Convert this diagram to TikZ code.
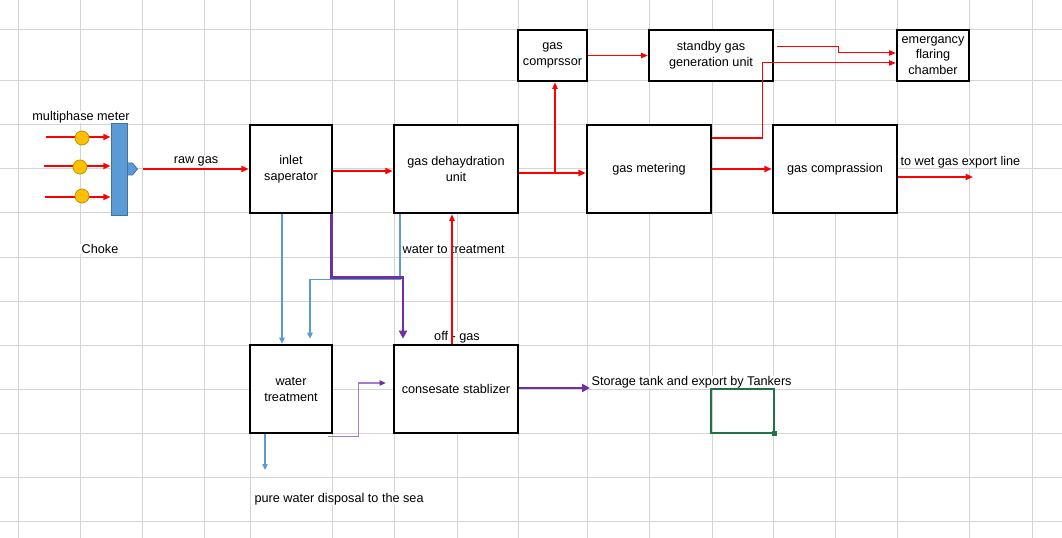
\documentclass[tikz,border=0pt]{standalone}
\usepackage{fontspec}
\setmainfont{Liberation Sans}
\usetikzlibrary{arrows.meta}
\definecolor{xlred}{HTML}{FF0000}
\definecolor{xlblue}{HTML}{5B9BD5}
\definecolor{xlnavy}{HTML}{41719C}
\definecolor{xlpurple}{HTML}{7030A0}
\definecolor{xllilac}{HTML}{A27DCB}
\definecolor{xlgrid}{HTML}{D4D4D4}
\definecolor{xlgreen}{HTML}{217346}
\definecolor{xlorange}{HTML}{FFC000}
\definecolor{xlbrown}{HTML}{BF9000}

\begin{document}
\begin{tikzpicture}[x=0.75pt, y=-0.75pt, >=Triangle,
    font=\fontsize{9.5}{12}\selectfont,
    gridline/.style={draw=xlgrid, line width=0.75pt},
    box/.style={draw, line width=1.9pt, fill=white, inner sep=0pt, align=center},
    lbl/.style={fill=white, inner xsep=1pt, inner ysep=0pt},
    redarrow/.style={draw=xlred, line width=1.5pt, -{Triangle[length=5.5pt,width=4.5pt]}},
    redthin/.style={draw=xlred, line width=0.9pt, -{Triangle[length=5pt,width=4pt]}},
    bluearrow/.style={draw=xlblue, line width=1.1pt, -{Triangle[length=4.5pt,width=4pt]}},
    purplearrow/.style={draw=xlpurple, line width=2.2pt, -{Triangle[length=6pt,width=6pt]}},
    lilacarrow/.style={draw=xllilac, line width=0.8pt, -{Triangle[length=4.5pt,width=4pt,color=xlpurple]}},
    meterdot/.style={circle, draw=xlbrown, fill=xlorange, line width=0.6pt, minimum size=10.5pt, inner sep=0pt},
    chokebar/.style={draw=xlnavy, fill=xlblue, line width=0.6pt}]
    \useasboundingbox (0,0) rectangle (1062,538);

    % 网格
    \foreach \gx in {18,80,142,204,250,332,394,457,518,587,649,712,773,835,897,969,1032}
        \draw[gridline] (\gx,0) -- (\gx,538);
    \foreach \gy in {30,81,125,169,213,257,301,345,389,433,477,521}
        \draw[gridline] (0,\gy) -- (1062,\gy);

    % 标签
    \node[lbl] (mplabel) at (81,117) {multiphase meter};
    \node[lbl] (rawlabel) at (196,161) {raw gas};
    \node[lbl] (chokelabel) at (100,249) {Choke};
    \node[lbl, anchor=west] (wtlabel) at (401,249) {water to treatment};
    \node[lbl] (offlabel) at (457,337) {off - gas};
    \node[lbl, anchor=west] (wetlabel) at (899,162) {to wet gas export line};
    \node[lbl, anchor=west] (tanklabel) at (590,382) {Storage tank and export by Tankers};
    \node[lbl, anchor=west] (sealabel) at (253,499) {pure water disposal to the sea};

    % 方框
    \node[box, minimum width=61.5pt, minimum height=66pt] (inlet) at (291,169) {inlet\\saperator};
    \node[box, minimum width=93pt, minimum height=66pt] (dehyd) at (456,169) {gas dehaydration\\unit};
    \node[box, minimum width=93pt, minimum height=66pt] (meter) at (649,169) {gas metering};
    \node[box, minimum width=93pt, minimum height=66pt] (comp) at (835,169) {gas comprassion};
    \node[box, minimum width=51.75pt, minimum height=38.25pt] (gcomp) at (552.5,55.5) {gas\\comprssor};
    \node[box, minimum width=93pt, minimum height=38.25pt] (standby) at (711,55.5) {standby gas\\generation unit};
    \node[box, minimum width=54pt, minimum height=38.25pt, font=\fontsize{9.5}{11.6}\selectfont] (flare) at (933,55.5) {emergancy\\flaring\\chamber};
    \node[box, minimum width=61.5pt, minimum height=66pt] (wtreat) at (291,389) {water\\treatment};
    \node[box, minimum width=93pt, minimum height=66pt] (stab) at (456,389) {consesate stablizer};
    \node[draw=xlgreen, line width=1.5pt, minimum width=47.25pt, minimum height=33pt, inner sep=0pt] (sel) at (742.5,411) {};
    \fill[xlgreen] ([shift={(-2pt,2pt)}]sel.south east) rectangle ++(5,5);

    % 多相流量计
    \node[chokebar, minimum width=12pt, minimum height=69pt, inner sep=0pt] (choke) at (119,169) {};
    \filldraw[chokebar] (choke.east) ++(0,-6) -- ++(5,0) -- ++(5,6) -- ++(-5,6) -- ++(-5,0) -- cycle;
    \coordinate (in1) at (46,137);
    \coordinate (in2) at (44,166);
    \coordinate (in3) at (45,197);
    \draw[redarrow] (in1) -- (in1 -| choke.west);
    \draw[redarrow] (in2) -- (in2 -| choke.west);
    \draw[redarrow] (in3) -- (in3 -| choke.west);
    \node[meterdot] (m1) at (82,138) {};
    \node[meterdot] (m2) at (80,167) {};
    \node[meterdot] (m3) at (82,196) {};

    % 箭头
    \draw[redarrow] ([xshift=12pt]choke.east) -- (inlet.west);
    \draw[redarrow] ([yshift=-1.5pt]inlet.east) -- ([yshift=-1.5pt]dehyd.west);
    \draw[redarrow] ([yshift=-3pt]dehyd.east) -- ([yshift=-3pt]meter.west);
    \coordinate (split) at (555,173);
    \draw[redthin] (split) -- (split |- gcomp.south);
    \draw[redthin] (gcomp.east) -- (standby.west);
    \draw[redarrow] (meter.east) -- (comp.west);
    \draw[redthin, line width=0.8pt] ([yshift=23.25pt]meter.east) -- ++(50,0) |- ([yshift=-5.6pt]flare.west);
    \draw[redthin, line width=0.8pt] ([shift={(2.25pt,7pt)}]standby.east) -- ++(61,0) |- ([yshift=1.9pt]flare.west);
    \coordinate (wetgas) at (973,177);
    \draw[redarrow] (comp.east |- wetgas) -- (wetgas);
    \draw[redthin, line width=1.1pt] ([xshift=-3pt]stab.north) -- ([xshift=-3pt]dehyd.south);

    \draw[bluearrow] ([xshift=-6.75pt]inlet.south) -- ([xshift=-6.75pt]wtreat.north);
    \draw[bluearrow] ([xshift=-42pt]dehyd.south) -- ++(0,65) -| ([shift={(14.25pt,3.75pt)}]wtreat.north);
    \coordinate (sea) at (265,470);
    \draw[bluearrow, line width=0.9pt] (sea |- wtreat.south) -- (sea);

    \draw[purplearrow] ([xshift=-1.5pt]inlet.south east) -- ++(0,63) -| ([shift={(-39.75pt,3.75pt)}]stab.north);
    \draw[lilacarrow] ([shift={(-3.75pt,-1.5pt)}]wtreat.south east) -- ++(30,0) |- ([shift={(-5.25pt,4.5pt)}]stab.west);
    \coordinate (tank) at (590,388);
    \draw[purplearrow, line width=2pt] (stab.east |- tank) -- (tank);
\end{tikzpicture}
\end{document}
